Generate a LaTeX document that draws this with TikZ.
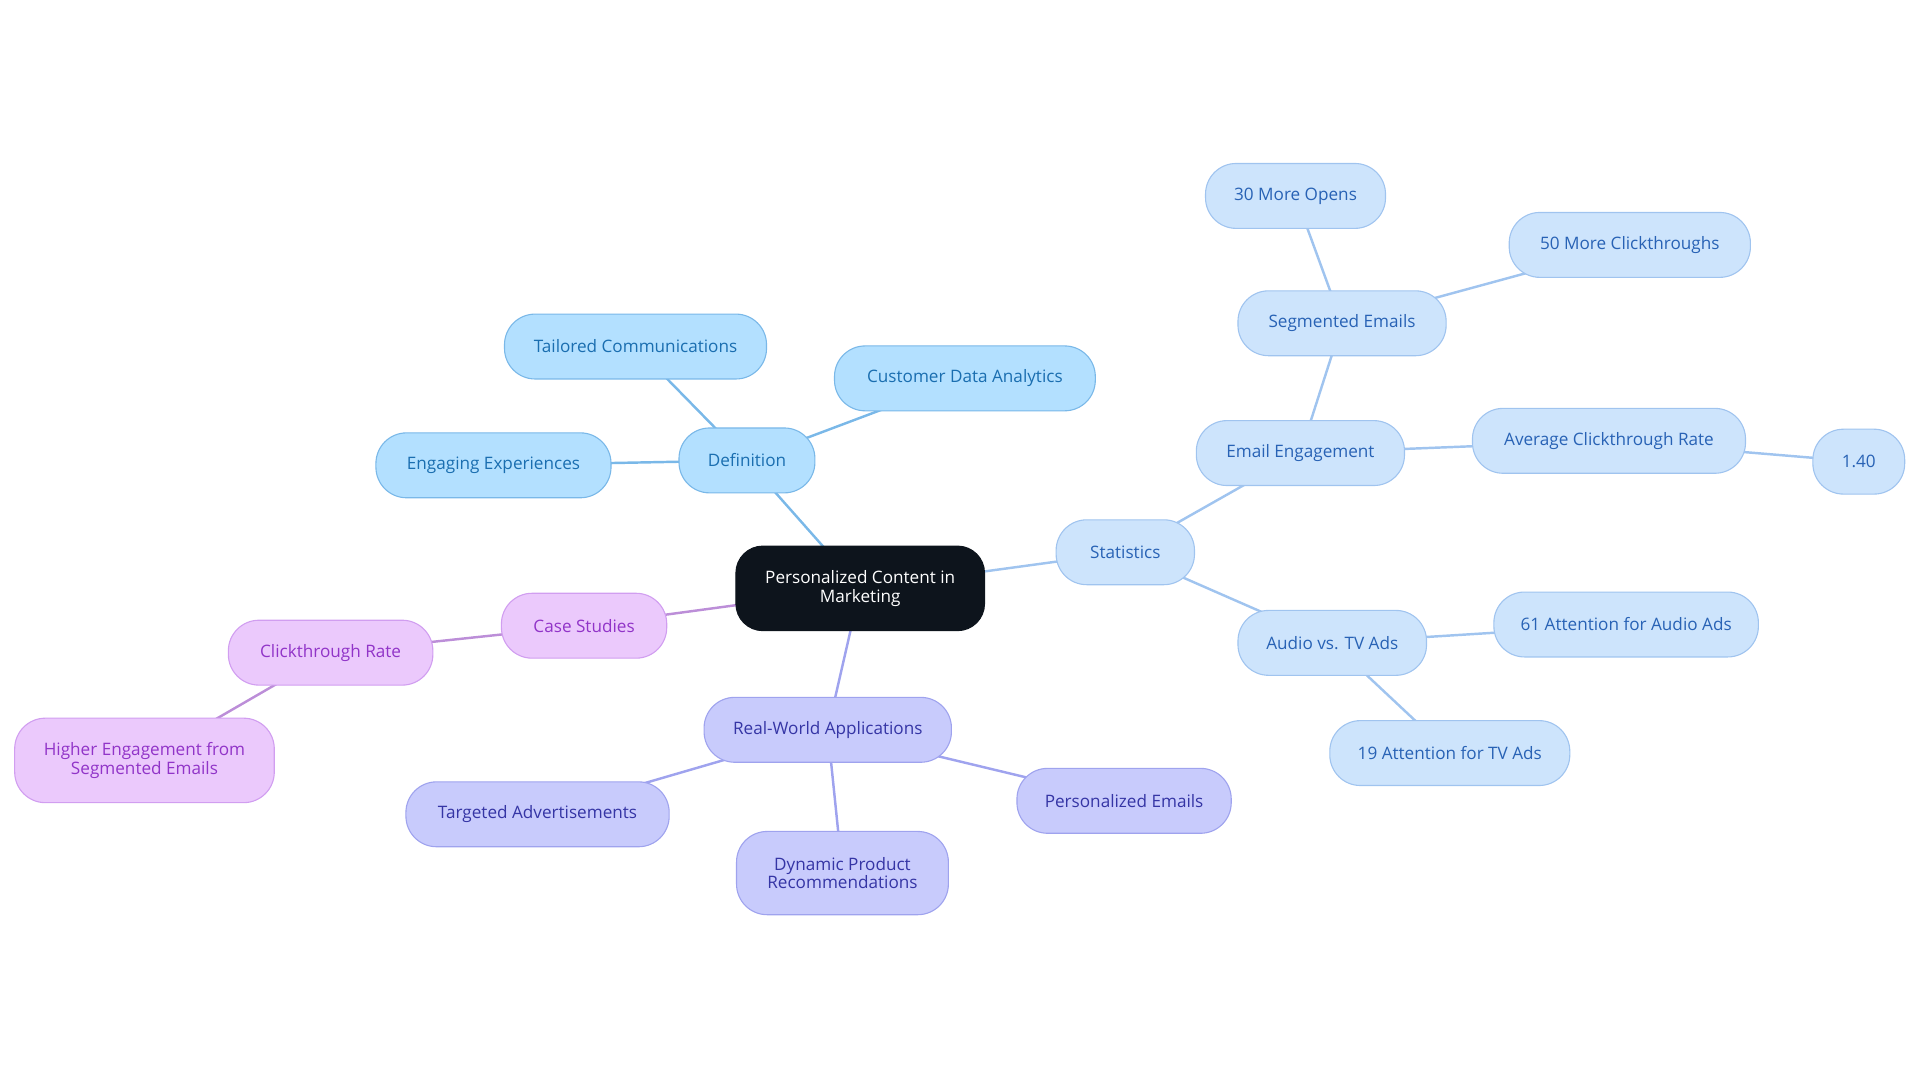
\documentclass[tikz,border=0pt]{standalone}
\usepackage{fontspec}
\setmainfont{Open Sans}
\usetikzlibrary{backgrounds}
\definecolor{cFill}{HTML}{0D141C}
\definecolor{dFill}{HTML}{B3E0FF}
\definecolor{dLine}{HTML}{7AB8E8}
\definecolor{dText}{HTML}{1A6EB0}
\definecolor{sFill}{HTML}{CDE4FC}
\definecolor{sLine}{HTML}{A0C4EF}
\definecolor{sText}{HTML}{2862B5}
\definecolor{kFill}{HTML}{EBC9FC}
\definecolor{kLine}{HTML}{D19EF0}
\definecolor{kText}{HTML}{9134C8}
\definecolor{rFill}{HTML}{C8CBFC}
\definecolor{rLine}{HTML}{9FA3EE}
\definecolor{rText}{HTML}{3535A5}
\tikzset{
  base/.style={rounded corners=25pt, draw, line width=0.9pt, align=center, inner sep=0pt,
    minimum height=53pt, font=\fontsize{14}{15.5}\selectfont},
  central/.style={base, rounded corners=22pt, fill=cFill, draw=cFill, text=white, minimum height=69pt},
  defn/.style={base, fill=dFill, draw=dLine, text=dText},
  stat/.style={base, fill=sFill, draw=sLine, text=sText},
  kase/.style={base, fill=kFill, draw=kLine, text=kText},
  real/.style={base, fill=rFill, draw=rLine, text=rText},
  dedge/.style={draw=dLine, line width=2pt},
  sedge/.style={draw=sLine, line width=2pt},
  kedge/.style={draw=kLine!90!black, line width=2pt},
  redge/.style={draw=rLine, line width=2pt},
}
\begin{document}
\begin{tikzpicture}[x=1pt,y=-1pt]
\useasboundingbox (0,0) rectangle (1568,884);
\node[central, minimum width=203pt] (c) at (702.5,480.5) {Personalized Content in\\Marketing};
% Definition branch
\node[defn, minimum width=111pt] (def) at (610,376) {Definition};
\node[defn, minimum width=214pt] (tai) at (519,283) {Tailored Communications};
\node[defn, minimum width=213pt] (cda) at (788,309) {Customer Data Analytics};
\node[defn, minimum width=192pt] (eng) at (403,380) {Engaging Experiences};
% Statistics branch
\node[stat, minimum width=113pt] (sta) at (919,451) {Statistics};
\node[stat, minimum width=170pt] (eme) at (1062,370) {Email Engagement};
\node[stat, minimum width=170pt] (seg) at (1096,264) {Segmented Emails};
\node[stat, minimum width=147pt] (o30) at (1058,160) {30 More Opens};
\node[stat, minimum width=197pt] (c50) at (1331,200) {50 More Clickthroughs};
\node[stat, minimum width=223pt] (avg) at (1314,360) {Average Clickthrough Rate};
\node[stat, minimum width=75pt] (v14) at (1518,377) {1.40};
\node[stat, minimum width=154pt] (atv) at (1088,525) {Audio vs. TV Ads};
\node[stat, minimum width=216pt] (a61) at (1328,510) {61 Attention for Audio Ads};
\node[stat, minimum width=196pt] (t19) at (1184,615) {19 Attention for TV Ads};
% Case studies branch
\node[kase, minimum width=135pt] (cas) at (477,511) {Case Studies};
\node[kase, minimum width=167pt] (ctr) at (270,533) {Clickthrough Rate};
\node[kase, minimum width=212pt, minimum height=69pt] (hes) at (118,621) {Higher Engagement from\\Segmented Emails};
% Real-world branch
\node[real, minimum width=202pt] (rwa) at (676,596) {Real-World Applications};
\node[real, minimum width=215pt] (tad) at (439,665) {Targeted Advertisements};
\node[real, minimum width=173pt, minimum height=68pt] (dpr) at (688,713) {Dynamic Product\\Recommendations};
\node[real, minimum width=175pt] (pem) at (918,654) {Personalized Emails};
\begin{scope}[on background layer]
\draw[dedge] (c.center) -- (def.center);
\draw[dedge] (def.center) -- (tai.center);
\draw[dedge] (def.center) -- (cda.center);
\draw[dedge] (def.center) -- (eng.center);
\draw[sedge] (c.center) -- (sta.center);
\draw[sedge] (sta.center) -- (eme.center);
\draw[sedge] (eme.center) -- (seg.center);
\draw[sedge] (seg.center) -- (o30.center);
\draw[sedge] (seg.center) -- (c50.center);
\draw[sedge] (eme.center) -- (avg.center);
\draw[sedge] (avg.center) -- (v14.center);
\draw[sedge] (sta.center) -- (atv.center);
\draw[sedge] (atv.center) -- (a61.center);
\draw[sedge] (atv.center) -- (t19.center);
\draw[kedge] (c.center) -- (cas.center);
\draw[kedge] (cas.center) -- (ctr.center);
\draw[kedge] (ctr.center) -- (hes.center);
\draw[redge] (c.center) -- (rwa.center);
\draw[redge] (rwa.center) -- (tad.center);
\draw[redge] (rwa.center) -- (dpr.center);
\draw[redge] (rwa.center) -- (pem.center);
\end{scope}
\end{tikzpicture}
\end{document}
